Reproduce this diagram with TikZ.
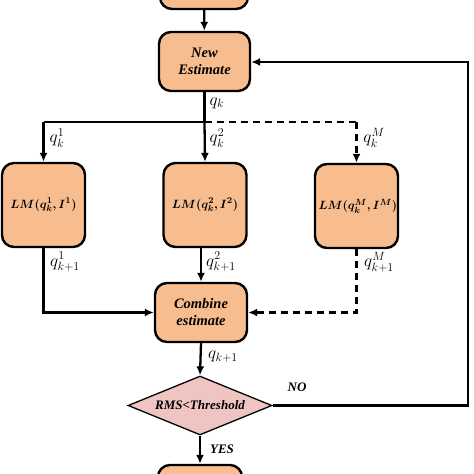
\documentclass[tikz,border=0pt]{standalone}
\usepackage{amsmath,bm}
\usepackage{fontspec}
\setmainfont{Liberation Serif}
\usetikzlibrary{shapes.geometric,arrows.meta}
\definecolor{boxfill}{RGB}{248,189,142}
\definecolor{diafill}{RGB}{239,197,193}
\tikzset{
  x=1pt,y=-1pt,
  flowbox/.style={draw=black,line width=2.4pt,fill=boxfill,rounded corners=12pt,
    align=center,font=\fontsize{14.5}{17}\selectfont\bfseries\itshape,inner sep=0pt},
  lmbox/.style={flowbox,minimum width=83pt,minimum height=84pt,text width=76pt,
    font=\fontsize{12.5}{15}\selectfont},
  decision/.style={draw=black,line width=1.3pt,fill=diafill,diamond,aspect=2.44,inner sep=0pt,
    minimum width=144pt,minimum height=59pt,font=\fontsize{13}{15}\selectfont\bfseries\itshape},
  conn/.style={line width=2.3pt,-{Latex[length=9pt,width=8pt]}},
  plain/.style={line width=2.3pt},
  dconn/.style={conn,dash pattern=on 7pt off 5pt},
  dplain/.style={plain,dash pattern=on 7pt off 5pt},
  lab/.style={font=\fontsize{17}{19}\selectfont,inner sep=0pt},
  wlab/.style={font=\fontsize{13}{15}\selectfont\bfseries\itshape,inner sep=0pt}
}
\begin{document}
\begin{tikzpicture}
\useasboundingbox (0,0) rectangle (474,474);
\node[flowbox,minimum width=88pt,minimum height=50pt] (top) at (204,-16) {};
\node[flowbox,minimum width=91pt,minimum height=59pt] (ne) at (204.5,61.5) {New\\Estimate};
\node[lmbox] (lm1) at (43.5,205) {$\bm{LM(q_k^1,I^1)}$};
\node[lmbox] (lm2) at (205,205) {$\bm{LM(q_k^2,I^2)}$};
\node[lmbox] (lm3) at (356.5,206) {$\bm{LM(q_k^M,I^M)}$};
\node[flowbox,minimum width=92pt,minimum height=59pt] (comb) at (201,312.5) {Combine\\estimate};
\node[decision] (dia) at (200,405.5) {RMS<Threshold};
\node[flowbox,minimum width=84pt,minimum height=50pt] (bot) at (200,490) {};

\coordinate (split) at (204.5,122);
\coordinate (s1) at (43.5,122);
\coordinate (s3) at (356.5,122);
\coordinate (j1) at (43.5,312.5);
\coordinate (j3) at (356.5,312.5);
\coordinate (r1) at (468,405.5);
\coordinate (r2) at (468,62);

\draw[conn] (top) -- (ne);
\draw[plain] (ne.south) -- (split);
\draw[plain] (s1) -- (split);
\draw[dplain] (split) -- (s3);
\draw[conn] (s1) -- (lm1.north);
\draw[conn] (split) -- (lm2.north);
\draw[dconn] (s3) -- (lm3.north);
\draw[conn] (lm1.south) -- (j1) -- (comb.west);
\draw[conn] (comb.north |- lm2.south) -- (comb.north);
\draw[dconn] (lm3.south) -- (j3) -- (comb.east);
\draw[conn] (comb.south) -- (dia.north);
\draw[conn] (dia.east) -- (r1) -- (r2) -- (ne.east |- r2);
\draw[conn] (dia.south) -- (bot.north);

\node[lab] (lqk) at (217,103) {$q_k$};
\node[lab] (lq1) at (57,138) {$q_k^1$};
\node[lab] (lq2) at (217,138) {$q_k^2$};
\node[lab] (lq3) at (374,138) {$q_k^M$};
\node[lab] (lp1) at (65,262) {$q_{k+1}^1$};
\node[lab] (lp2) at (221,262) {$q_{k+1}^2$};
\node[lab] (lp3) at (379,262) {$q_{k+1}^M$};
\node[lab] (lp) at (223,357) {$q_{k+1}$};
\node[wlab] (no) at (297,387) {NO};
\node[wlab] (yes) at (222,449) {YES};
\end{tikzpicture}
\end{document}
